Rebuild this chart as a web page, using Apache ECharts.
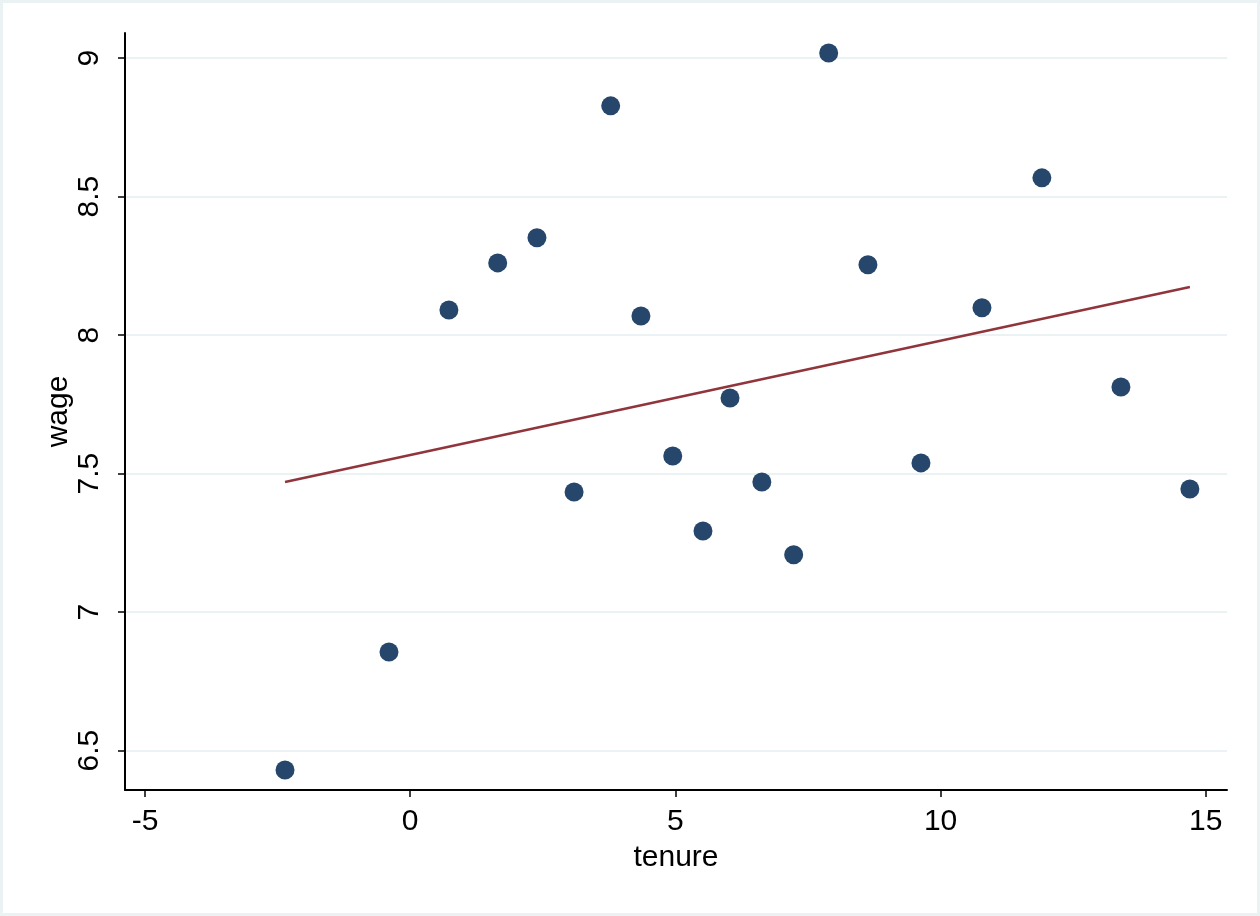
<!DOCTYPE html>
<html>
<head>
<meta charset="utf-8">
<script src="https://cdn.jsdelivr.net/npm/echarts@6/dist/echarts.min.js"></script>
<style>
html,body{margin:0;padding:0;width:1260px;height:916px;background:#eaf2f3;overflow:hidden;}
#frame{position:absolute;left:3px;top:3px;width:1254px;height:910px;background:#fff;}
#chart{position:absolute;left:-3px;top:-3px;width:1260px;height:916px;}
</style>
</head>
<body>
<div id="frame"><div id="chart"></div></div>
<script>
const tenure = [-2.36, -0.40, 0.73, 1.65, 2.39, 3.09, 3.78, 4.35, 4.95, 5.52, 6.03, 6.63, 7.23, 7.89, 8.63, 9.63, 10.78, 11.91, 13.40, 14.70];
const wage   = [6.430, 6.856, 8.091, 8.261, 8.352, 7.434, 8.828, 8.069, 7.564, 7.293, 7.773, 7.470, 7.207, 9.019, 8.254, 7.539, 8.099, 8.568, 7.813, 7.445];
const fitX = [-2.36, 14.70];
const fitY = [7.470, 8.174];
const xTicks = [-5, 0, 5, 10, 15];
const yTicks = [6.5, 7, 7.5, 8, 8.5, 9];

const chart = echarts.init(document.getElementById('chart'), null, {renderer:'canvas'});
const font = 'Liberation Sans, Arial, Helvetica, sans-serif';
chart.setOption({
  backgroundColor: 'transparent',
  animation: false,
  grid: {left:125, top:33, right:33, bottom:126, containLabel:false},
  xAxis: {
    type:'value', min:-5.377, max:15.40,
    name:'tenure', nameLocation:'middle', nameGap:53,
    nameTextStyle:{fontFamily:font, fontSize:30, color:'#000'},
    axisLine:{onZero:false, lineStyle:{color:'#000', width:2}},
    axisTick:{show:true, length:7, customValues:xTicks, lineStyle:{color:'#000', width:1.5}},
    axisLabel:{customValues:xTicks, fontFamily:font, fontSize:30, color:'#000', margin:17},
    splitLine:{show:false}
  },
  yAxis: {
    type:'value', min:6.358, max:9.091,
    name:'wage', nameLocation:'middle', nameGap:51, nameMoveOverlap:false,
    nameTextStyle:{fontFamily:font, fontSize:30, color:'#000'},
    axisLine:{show:true, onZero:false, lineStyle:{color:'#000', width:2}},
    axisTick:{show:true, length:7, customValues:yTicks, lineStyle:{color:'#000', width:1.5}},
    axisLabel:{customValues:yTicks, rotate:90, fontFamily:font, fontSize:30, color:'#000', margin:20},
    splitLine:{show:true, lineStyle:{color:'#eaf2f3', width:2}}
  },
  series: [
    {
      type:'scatter', data: tenure.map((t,i)=>[t, wage[i]]),
      symbol:'circle', symbolSize:19,
      itemStyle:{color:'#26476b', opacity:1}, z:3
    },
    {
      type:'line', data: fitX.map((t,i)=>[t, fitY[i]]),
      symbol:'none', lineStyle:{color:'#90353b', width:2.5}, z:2
    }
  ]
});
</script>
</body>
</html>
